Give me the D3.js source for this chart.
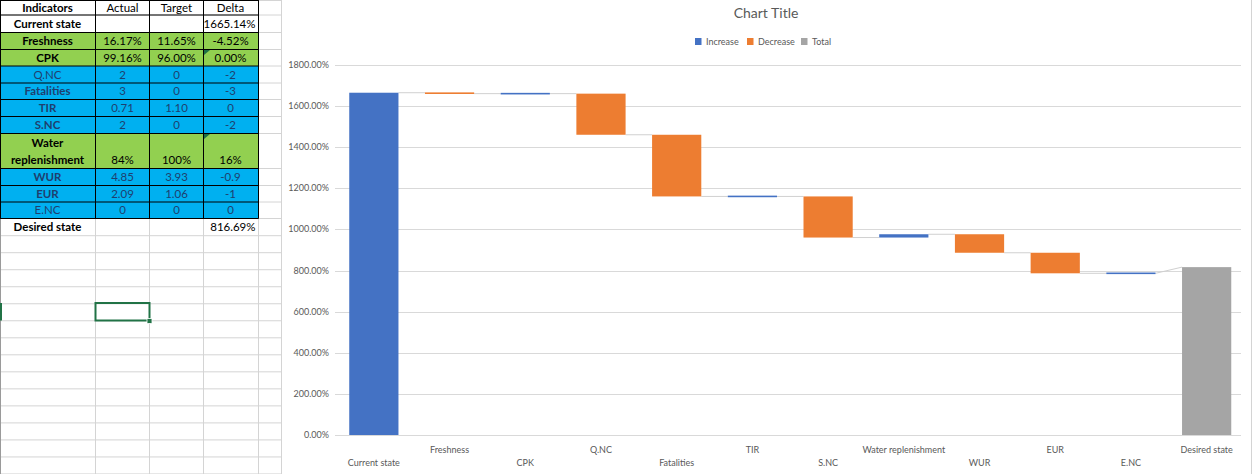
<!DOCTYPE html>
<html>
<head>
<meta charset="utf-8">
<script src="https://cdn.jsdelivr.net/npm/d3@7"></script>
<style>
  html, body { margin: 0; padding: 0; background: #fff; }
  svg { display: block; }
  text { font-family: Lato, "Open Sans", sans-serif; }
</style>
</head>
<body>
<svg id="chart" width="1253" height="474"></svg>
<script>
// ---------- Data ----------
const categories = ["Current state","Freshness","CPK","Q.NC","Fatalities","TIR","S.NC","Water replenishment","WUR","EUR","E.NC","Desired state"];
const values = [1665.14, -4.52, 0, -200, -300, 0, -200, 16, -90, -100, 0, 816.69];
const totals = [false, false, false, false, false, false, false, false, false, false, false, true];
const yTicks = [0, 200, 400, 600, 800, 1000, 1200, 1400, 1600, 1800];
const legendLabels = ["Increase", "Decrease", "Total"];

// Table (spreadsheet) data
const tableHeader = ["Indicators", "Actual", "Target", "Delta"];
const tableIndicators = ["Current state","Freshness","CPK","Q.NC","Fatalities","TIR","S.NC","Water replenishment","WUR","EUR","E.NC","Desired state"];
const tableActual = ["", "16.17%", "99.16%", "2", "3", "0.71", "2", "84%", "4.85", "2.09", "0", ""];
const tableTarget = ["", "11.65%", "96.00%", "0", "0", "1.10", "0", "100%", "3.93", "1.06", "0", ""];
const tableDelta = ["1665.14%", "-4.52%", "0.00%", "-2", "-3", "0", "-2", "16%", "-0.9", "-1", "0", "816.69%"];
const tableFill = ["none","green","green","blue","blue","blue","blue","green","blue","blue","blue","none"];
const tableBold = [true, true, true, false, true, true, true, true, true, true, false, true];

// ---------- Setup ----------
const svg = d3.select("#chart");
const W = 1253, H = 474;
svg.append("rect").attr("width", W).attr("height", H).attr("fill", "#fff");

// ---------- Spreadsheet ----------
const colX = [0.5, 95.5, 149.5, 203.5, 258.5, 281.5];
const rowY = [0.5, 15, 32.5, 49.5, 66, 83, 99.5, 116.5, 133.5, 168.5, 185.5, 202, 218.5, 235.7];
const extraRows = [];
for (let y = 252.7; y < H; y += 17.02) extraRows.push(y);
const sheet = svg.append("g");
const fills = { green: "#92D050", blue: "#00B0F0" };

// light gridlines
const allRows = rowY.concat(extraRows);
allRows.forEach(y => sheet.append("line").attr("x1", 0).attr("x2", colX[5]).attr("y1", y).attr("y2", y)
  .attr("stroke", "#d4d4d4").attr("stroke-width", 1));
colX.forEach(x => sheet.append("line").attr("x1", x).attr("x2", x).attr("y1", 0).attr("y2", H)
  .attr("stroke", "#d4d4d4").attr("stroke-width", 1));
sheet.append("line").attr("x1", 0.5).attr("x2", 0.5).attr("y1", 0).attr("y2", H).attr("stroke", "#9a9a9a");

// cell fills
tableIndicators.forEach((d, i) => {
  const y0 = rowY[i + 1], y1 = rowY[i + 2];
  if (tableFill[i] !== "none") {
    sheet.append("rect").attr("x", colX[0]).attr("y", y0).attr("width", colX[4] - colX[0]).attr("height", y1 - y0)
      .attr("fill", fills[tableFill[i]]);
  }
});

// black borders for the table block (header .. E.NC)
const lastBlack = 12;
for (let r = 0; r <= lastBlack; r++) {
  sheet.append("line").attr("x1", 0).attr("x2", colX[4]).attr("y1", rowY[r]).attr("y2", rowY[r])
    .attr("stroke", "#000").attr("stroke-width", 1);
}
colX.slice(0, 5).forEach(x => sheet.append("line").attr("x1", x).attr("x2", x).attr("y1", 0).attr("y2", rowY[lastBlack])
  .attr("stroke", "#000").attr("stroke-width", 1));

// header text
const colCenters = [47.5, 122.5, 176.5, 230.5];
tableHeader.forEach((h, j) => {
  sheet.append("text").attr("x", colCenters[j]).attr("y", 11.5).attr("text-anchor", "middle")
    .attr("font-size", 11.5).attr("font-weight", j === 0 ? "bold" : "normal").attr("fill", "#000").text(h);
});

tableIndicators.forEach((d, i) => {
  const y0 = rowY[i + 1], y1 = rowY[i + 2];
  const blue = tableFill[i] === "blue";
  const col = blue ? "#1f3f6f" : "#000";
  const base = y1 - 4.5;
  const isWater = d === "Water replenishment";
  if (isWater) {
    sheet.append("text").attr("x", colCenters[0]).attr("y", y0 + 13.5).attr("text-anchor", "middle")
      .attr("font-size", 11.5).attr("font-weight", "bold").attr("fill", col).text("Water");
    sheet.append("text").attr("x", colCenters[0]).attr("y", base).attr("text-anchor", "middle")
      .attr("font-size", 11.5).attr("font-weight", "bold").attr("fill", col).text("replenishment");
  } else {
    sheet.append("text").attr("x", colCenters[0]).attr("y", base).attr("text-anchor", "middle")
      .attr("font-size", 11.5).attr("font-weight", tableBold[i] ? "bold" : "normal").attr("fill", col).text(d);
  }
  [tableActual[i], tableTarget[i]].forEach((v, j) => {
    if (v) sheet.append("text").attr("x", colCenters[j + 1]).attr("y", base).attr("text-anchor", "middle")
      .attr("font-size", 11.5).attr("fill", col).text(v);
  });
  const total = tableFill[i] === "none";
  sheet.append("text").attr("x", total ? colX[4] - 3 : colCenters[3]).attr("y", base)
    .attr("text-anchor", total ? "end" : "middle").attr("font-size", 11.5).attr("fill", col).text(tableDelta[i]);
  if (d === "CPK" || isWater) {
    sheet.append("path").attr("d", `M${colX[3] + 0.5},${y0 + 0.5} h6 l-6,5 z`).attr("fill", "#1e7145");
  }
});

// selected cell
sheet.append("rect").attr("x", 95.5).attr("y", 303).attr("width", 54).attr("height", 17.5)
  .attr("fill", "none").attr("stroke", "#217346").attr("stroke-width", 2);
sheet.append("rect").attr("x", 147).attr("y", 318.5).attr("width", 5).attr("height", 5).attr("fill", "#217346")
  .attr("stroke", "#fff").attr("stroke-width", 0.8);
sheet.append("rect").attr("x", 0).attr("y", 303).attr("width", 2).attr("height", 17.5).attr("fill", "#217346");

// ---------- Chart area ----------
svg.append("rect").attr("x", 282).attr("y", 0).attr("width", 969.5).attr("height", H).attr("fill", "#fff");
svg.append("line").attr("x1", 281.5).attr("x2", 281.5).attr("y1", 0).attr("y2", H).attr("stroke", "#d4d4d4");
svg.append("line").attr("x1", 1251.5).attr("x2", 1251.5).attr("y1", 0).attr("y2", H).attr("stroke", "#d4d4d4");

const x = d3.scaleBand().domain(categories).range([336, 1244.5]).paddingInner(0.35).paddingOuter(0.175);
const y = d3.scaleLinear().domain([0, 1800]).range([435, 65]);
const gridX0 = 335, gridX1 = 1241;

const chart = svg.append("g");
yTicks.forEach(t => {
  chart.append("line").attr("x1", gridX0).attr("x2", gridX1).attr("y1", Math.round(y(t)) + 0.5).attr("y2", Math.round(y(t)) + 0.5)
    .attr("stroke", "#d9d9d9").attr("stroke-width", 1);
  chart.append("text").attr("x", 329).attr("y", y(t) + 3).attr("text-anchor", "end")
    .attr("font-size", 9).attr("fill", "#595959").text(d3.format(".2f")(t) + "%");
});

// waterfall computations
let running = 0;
const bars = categories.map((c, i) => {
  let start, end;
  if (totals[i]) { start = 0; end = values[i]; running = values[i]; }
  else { start = running; end = running + values[i]; running = end; }
  const type = totals[i] ? "Total" : (values[i] >= 0 ? "Increase" : "Decrease");
  return { c, start, end, type };
});
const colors = { Increase: "#4472C4", Decrease: "#ED7D31", Total: "#A5A5A5" };

// connectors
for (let i = 0; i < bars.length - 1; i++) {
  const a = bars[i], b = bars[i + 1];
  const nextStart = totals[i + 1] ? b.end : b.start;
  chart.append("line")
    .attr("x1", x(a.c) + x.bandwidth()).attr("y1", y(a.end))
    .attr("x2", x(b.c)).attr("y2", y(nextStart))
    .attr("stroke", "#d0d0d0").attr("stroke-width", 1);
}

bars.forEach(b => {
  const top = y(Math.max(b.start, b.end)), bot = y(Math.min(b.start, b.end));
  let h = bot - top, yy = top;
  if (h < 1.6) { yy = (top + bot) / 2 - 0.8; h = 1.6; }
  chart.append("rect").attr("x", x(b.c)).attr("y", yy).attr("width", x.bandwidth()).attr("height", h)
    .attr("fill", colors[b.type]);
});

// x labels, staggered
categories.forEach((c, i) => {
  chart.append("text").attr("x", x(c) + x.bandwidth() / 2).attr("y", i % 2 === 0 ? 466 : 453)
    .attr("text-anchor", "middle").attr("font-size", 9).attr("fill", "#595959").text(c);
});

// title
chart.append("text").attr("x", 766).attr("y", 18).attr("text-anchor", "middle")
  .attr("font-size", 14).attr("fill", "#595959").text("Chart Title");

// legend
const legendX = [695, 747, 801];
legendLabels.forEach((l, i) => {
  chart.append("rect").attr("x", legendX[i]).attr("y", 38).attr("width", 6.5).attr("height", 7).attr("fill", colors[l]);
  chart.append("text").attr("x", legendX[i] + 11).attr("y", 44.5).attr("font-size", 9).attr("fill", "#595959").text(l);
});
</script>
</body>
</html>
